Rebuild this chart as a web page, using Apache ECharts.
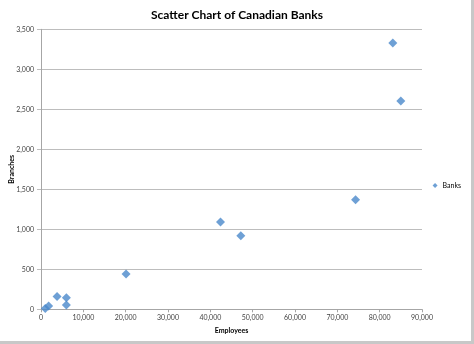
<!DOCTYPE html>
<html><head><meta charset="utf-8">
<script src="https://cdn.jsdelivr.net/npm/echarts@6/dist/echarts.min.js"></script>
<style>html,body{margin:0;padding:0;background:#fff}#c{width:474px;height:344px}</style>
</head><body><div id="c"></div>
<script>
var employees = [83100, 85000, 74300, 42400, 47200, 20100, 1000, 1800, 3800, 6000, 6000];
var branches  = [3330, 2605, 1368, 1092, 918, 442, 10, 40, 160, 145, 55];
var xTicks = [0, 10000, 20000, 30000, 40000, 50000, 60000, 70000, 80000, 90000];
var yTicks = [0, 500, 1000, 1500, 2000, 2500, 3000, 3500];
var seriesName = 'Banks';
var titleText = 'Scatter Chart of Canadian Banks';

var pts = employees.map(function(e, i){ return [e, branches[i]]; });
var fmt = function(v){ return v.toLocaleString('en-US'); };
var font = 'Lato, Open Sans, sans-serif';
var chart = echarts.init(document.getElementById('c'), null, {renderer:'canvas'});
chart.setOption({
  animation:false,
  backgroundColor:'#fff',
  title:{text:titleText, left:'center', top:4, right:4,
    textStyle:{fontFamily:font, fontSize:12, fontWeight:'bold', color:'#000'}},
  legend:{data:[seriesName], right:8, top:177, orient:'vertical', icon:'diamond',
    itemWidth:5, itemHeight:5, itemGap:4,
    textStyle:{fontFamily:font, fontSize:7, color:'#000'}},
  grid:{left:41, right:52, top:29.3, bottom:34.7, containLabel:false, outerBoundsMode:'none'},
  xAxis:{type:'value', min:xTicks[0], max:xTicks[xTicks.length-1], interval:10000,
    name:'Employees', nameLocation:'middle', nameGap:18, nameMoveOverlap:false,
    nameTextStyle:{fontFamily:font, fontSize:7, fontWeight:'bold', color:'#000'},
    axisLine:{show:true, lineStyle:{color:'#a6a6a6'}},
    axisTick:{show:true, length:3, lineStyle:{color:'#a6a6a6'}},
    splitLine:{show:false},
    axisLabel:{fontFamily:font, fontSize:7, color:'#444', margin:5, formatter:fmt}},
  yAxis:{type:'value', min:yTicks[0], max:yTicks[yTicks.length-1], interval:500,
    name:'Branches', nameLocation:'middle', nameGap:26, nameRotate:90, nameMoveOverlap:false,
    nameTextStyle:{fontFamily:font, fontSize:7, fontWeight:'bold', color:'#000'},
    axisLine:{show:true, lineStyle:{color:'#a6a6a6'}},
    axisTick:{show:true, length:4, lineStyle:{color:'#bdbdbd'}},
    splitLine:{show:true, lineStyle:{color:'#bdbdbd', width:1}},
    axisLabel:{fontFamily:font, fontSize:7, color:'#444', margin:7, formatter:fmt}},
  series:[{name:seriesName, type:'scatter', data:pts, symbol:'diamond', symbolSize:9,
    itemStyle:{color:'#4A88CB'}}],
  graphic:[
    {type:'rect', shape:{x:471, y:0, width:3, height:344}, style:{fill:'#c8c8c8'}},
    {type:'rect', shape:{x:0, y:341, width:474, height:3}, style:{fill:'#c8c8c8'}}
  ]
});
</script></body></html>
